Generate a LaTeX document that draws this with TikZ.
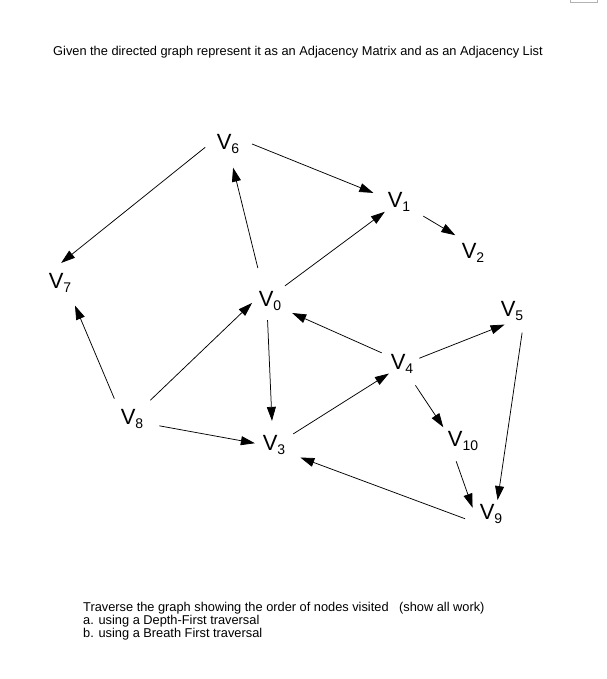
\documentclass[tikz,border=0pt]{standalone}
\usepackage{fontspec}
\setmainfont{Liberation Sans}
\usetikzlibrary{arrows.meta}
\newcommand\vlab[1]{V\raisebox{-4.5pt}{\fontsize{14}{14}\selectfont #1}}
\begin{document}
\begin{tikzpicture}[x=1pt,y=-1pt,
    vtx/.style={circle,inner sep=0pt,minimum size=44pt,font=\fontsize{22}{22}\selectfont},
    arr/.style={line width=0.75pt,-{Triangle[length=14pt,width=9pt]}},
    txt/.style={inner sep=0pt,font=\fontsize{12.8}{11.7}\selectfont}]
    \useasboundingbox (0,0) rectangle (606,679);
    \draw [gray!60,line width=0.75pt] (570,-2) rectangle (597,2);
    \node [txt,anchor=base west] (title) at (53,56) {Given the directed graph represent it as an Adjacency Matrix and as an Adjacency List};
    \foreach \n/\x/\y in {0/270/301, 1/399/202, 2/473/253, 3/274/445, 4/402/364, 5/512/311,
        6/228/144, 7/60/283, 8/132/419, 9/491/514, 10/463/441}
        \node [vtx] (v\n) at (\x,\y) {\vlab{\n}};
    % from/anchor/to/anchor/shorten start/shorten end
    \foreach \a/\p/\b/\q/\s/\t in {6/187/7/81/1/-3, 6/2/1/161/2/5, 1/330/2/133/6/3,
        0/114/6/282/13/2, 0/45/1/215/-1/-5, 8/135/7/306/5/5, 8/46/0/194/4/-5,
        0/264/3/95/-3/2, 8/345/3/174/6/-3, 4/151/0/331/1/3, 3/30/4/215/0/-6,
        4/19/5/228/-4/-8, 4/302/10/147/3/2, 5/298/9/70/2/-7, 10/253/9/153/-1/-4,
        9/197/3/333/5/7}
        \draw [arr,shorten <=\s pt,shorten >=\t pt] (v\a.\p) -- (v\b.\q);
    \node [txt,anchor=north west,align=left] (task) at (83,602) {Traverse the graph showing the order of nodes visited\hspace{7pt} (show all work)\\
        a. using a Depth-First traversal\\
        b. using a Breath First traversal};
\end{tikzpicture}
\end{document}
